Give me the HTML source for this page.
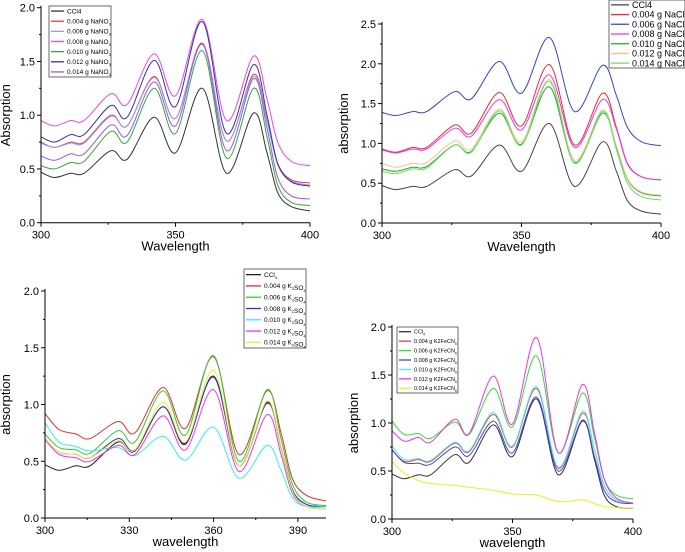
<!DOCTYPE html>
<html><head><meta charset="utf-8"><style>
html,body{margin:0;padding:0;background:#fff;}
svg{display:block;font-family:"Liberation Sans",sans-serif;}
</style></head><body>
<svg id="fig" width="685" height="552" viewBox="0 0 685 552" xmlns="http://www.w3.org/2000/svg"></svg>
<script>
const wavelengths=[300,305,311,316,326,332,342,350,360,369,379,384,388,393,400];

const nano3Labels=["CCl4","0.004 g NaNO3","0.006 g NaNO3","0.008 g NaNO3","0.010 g NaNO3","0.012 g NaNO3","0.014 g NaNO3"];
const nano3Ccl4=[0.47,0.42,0.46,0.46,0.67,0.59,0.98,0.65,1.25,0.46,1.02,0.65,0.28,0.15,0.11];
const nano3S004=[0.75,0.70,0.75,0.75,1.0,0.90,1.36,0.97,1.67,0.76,1.38,0.95,0.55,0.40,0.37];
const nano3S006=[0.74,0.70,0.74,0.74,0.99,0.90,1.35,0.97,1.66,0.76,1.36,0.94,0.54,0.39,0.35];
const nano3S008=[0.95,0.90,0.95,0.95,1.20,1.10,1.57,1.18,1.89,0.95,1.55,1.15,0.75,0.57,0.53];
const nano3S010=[0.53,0.50,0.56,0.57,0.85,0.75,1.25,0.83,1.60,0.60,1.25,0.80,0.35,0.19,0.16];
const nano3S012=[0.80,0.75,0.82,0.82,1.09,0.98,1.51,1.08,1.87,0.83,1.47,1.0,0.55,0.38,0.34];
const nano3S014=[0.62,0.58,0.64,0.64,0.91,0.81,1.31,0.90,1.66,0.67,1.34,0.88,0.42,0.25,0.22];

const naclLabels=["CCl4","0.004 g NaCl","0.006 g NaCl","0.008 g NaCl","0.010 g NaCl","0.012 g NaCl","0.014 g NaCl"];
const naclCcl4=[0.47,0.42,0.46,0.46,0.67,0.59,0.98,0.65,1.25,0.46,1.02,0.65,0.28,0.15,0.11];
const naclS004=[0.93,0.89,0.95,0.95,1.23,1.13,1.64,1.22,1.99,0.98,1.63,1.2,0.75,0.58,0.54];
const naclS006=[1.39,1.35,1.40,1.40,1.65,1.56,2.03,1.63,2.33,1.40,1.98,1.6,1.2,1.02,0.97];
const naclS008=[0.92,0.88,0.93,0.93,1.19,1.09,1.55,1.17,1.86,0.95,1.55,1.18,0.74,0.58,0.54];
const naclS010=[0.68,0.65,0.70,0.71,0.98,0.90,1.38,0.99,1.71,0.76,1.38,0.95,0.55,0.38,0.34];
const naclS012=[0.75,0.70,0.75,0.76,1.03,0.93,1.43,1.02,1.80,0.79,1.42,0.97,0.56,0.39,0.35];
const naclS014=[0.65,0.62,0.68,0.69,0.98,0.89,1.41,0.98,1.78,0.75,1.40,0.92,0.5,0.33,0.29];

const k2so4Labels=["CCl4","0.004 g K2SO4","0.006 g K2SO4","0.008 g K2SO4","0.010 g K2SO4","0.012 g K2SO4","0.014 g K2SO4"];
const k2so4Ccl4=[0.47,0.42,0.46,0.46,0.67,0.59,0.98,0.65,1.25,0.46,1.02,0.62,0.25,0.12,0.10];
const k2so4S004=[0.92,0.78,0.74,0.70,0.85,0.75,1.15,0.79,1.42,0.56,1.12,0.75,0.35,0.2,0.15];
const k2so4S006=[0.74,0.62,0.60,0.57,0.77,0.67,1.12,0.73,1.43,0.50,1.13,0.70,0.3,0.14,0.11];
const k2so4S008=[0.70,0.58,0.56,0.53,0.70,0.60,0.98,0.66,1.24,0.46,1.01,0.62,0.25,0.12,0.1];
const k2so4S010=[0.84,0.67,0.63,0.59,0.62,0.55,0.72,0.51,0.80,0.35,0.64,0.42,0.18,0.1,0.1];
const k2so4S012=[0.69,0.56,0.53,0.50,0.64,0.56,0.90,0.60,1.13,0.41,0.91,0.56,0.22,0.1,0.08];
const k2so4S014=[0.70,0.58,0.56,0.53,0.68,0.60,1.02,0.67,1.30,0.46,1.03,0.62,0.24,0.1,0.08];

const fecnLabels=["CCl4","0.004 g K2FeCN6","0.006 g K2FeCN6","0.008 g K2FeCN6","0.010 g K2FeCN6","0.012 g K2FeCN6","0.014 g K2FeCN6"];
const fecnCcl4=[0.47,0.42,0.46,0.46,0.67,0.59,0.98,0.65,1.25,0.46,1.02,0.62,0.25,0.13,0.11];
const fecnS004=[0.72,0.60,0.62,0.60,0.79,0.70,1.09,0.75,1.36,0.53,1.10,0.72,0.35,0.2,0.17];
const fecnS006=[1.02,0.88,0.89,0.84,1.01,0.88,1.36,0.96,1.70,0.69,1.31,0.85,0.42,0.25,0.21];
const fecnS008=[0.72,0.59,0.58,0.57,0.75,0.66,1.02,0.69,1.27,0.50,1.03,0.65,0.3,0.18,0.16];
const fecnS010=[0.76,0.62,0.63,0.61,0.80,0.71,1.11,0.76,1.38,0.54,1.12,0.72,0.35,0.2,0.17];
const fecnS012=[0.92,0.81,0.85,0.80,1.04,0.89,1.49,0.99,1.89,0.69,1.40,0.9,0.42,0.22,0.16];
const fecnS014=[0.60,0.48,0.40,0.37,0.35,0.33,0.30,0.26,0.25,0.18,0.20,0.16,0.13,0.12,0.11];

const NS="http://www.w3.org/2000/svg";
const svg=document.getElementById('fig');
function mk(tag,attrs,parent,text){const e=document.createElementNS(NS,tag);for(const k in attrs)e.setAttribute(k,attrs[k]);if(text!==undefined)e.textContent=text;parent.appendChild(e);return e;}

function labelText(parent,x,y,label,size,re){
  const t=mk('text',{x:x,y:y,'font-size':size,fill:'#000'},parent);
  if(!re){mk('tspan',{},t,label);return t;}
  let last=0,m;re.lastIndex=0;
  while((m=re.exec(label))){
    mk('tspan',{},t,label.slice(last,m.index)+m[1]);
    mk('tspan',{'font-size':size*0.6,dy:2},t,m[2]);
    mk('tspan',{dy:-2},t,'');
    last=m.index+m[0].length;
  }
  mk('tspan',{},t,label.slice(last));
  return t;
}

function panel(c){
  const g=mk('g',{},svg);
  
  
  const xs=v=>c.x0+(v-c.xmin)/(c.xmax-c.xmin)*(c.x1-c.x0);
  const ys=v=>c.y0-(v-c.ymin)/(c.ymax-c.ymin)*(c.y0-c.y1);
  c.series.forEach((s,i)=>{
    const pts=wavelengths.map((w,j)=>[xs(w),ys(s[j])]);
    let d='M'+pts[0][0].toFixed(1)+','+pts[0][1].toFixed(1);
    for(let j=0;j<pts.length-1;j++){
      const p0=pts[Math.max(j-1,0)],p1=pts[j],p2=pts[j+1],p3=pts[Math.min(j+2,pts.length-1)];
      const t=6;
      const c1=[p1[0]+(p2[0]-p0[0])/t,p1[1]+(p2[1]-p0[1])/t];
      const c2=[p2[0]-(p3[0]-p1[0])/t,p2[1]-(p3[1]-p1[1])/t];
      d+=' C'+c1.map(v=>v.toFixed(1))+' '+c2.map(v=>v.toFixed(1))+' '+p2.map(v=>v.toFixed(1));
    }
    const p=mk('path',{d:d,fill:'none',stroke:c.colors[i],'stroke-width':1},g);
    
    
  });
  const ax=mk('path',{d:`M${c.x0},${c.y1-2} L${c.x0},${c.y0} L${c.x1},${c.y0}`,fill:'none',stroke:'#000','stroke-width':1},g);
  
  
  c.yticks.forEach(v=>{
    const y=ys(v);
    mk('line',{x1:c.x0-4,x2:c.x0,y1:y,y2:y,stroke:'#000'},g);
    const t=mk('text',{x:c.x0-6,y:y+4,'font-size':11,'text-anchor':'end'},g,v.toFixed(1));
    
    
  });
  for(let k=0;k<c.yticks.length-1;k++){const y=ys((c.yticks[k]+c.yticks[k+1])/2);mk('line',{x1:c.x0-2,x2:c.x0,y1:y,y2:y,stroke:'#000'},g);}
  c.xticks.forEach(v=>{
    const x=xs(v);
    mk('line',{x1:x,x2:x,y1:c.y0,y2:c.y0+4,stroke:'#000'},g);
    const t=mk('text',{x:x,y:c.y0+16,'font-size':11,'text-anchor':'middle'},g,String(v));
    
    
  });
  c.xminor.forEach(v=>{const x=xs(v);mk('line',{x1:x,x2:x,y1:c.y0,y2:c.y0+2,stroke:'#000'},g);});
  const xt=mk('text',{x:(c.x0+c.x1)/2,y:c.y0+28,'font-size':13,'text-anchor':'middle'},g,c.xtitle);
  
  
  const yt=mk('text',{x:0,y:0,'font-size':13,'text-anchor':'middle',transform:`translate(${c.ytx},${(c.y0+c.y1)/2}) rotate(-90)`},g,c.ytitle);
  
  
  const L=c.legend;
  const lg=mk('g',{},g);
  
  
  mk('rect',{x:L.x,y:L.y,width:L.w,height:L.h,fill:'#fff',stroke:'#444','stroke-width':0.8},lg);
  const rh=L.h/7;
  c.labels.forEach((lab,i)=>{
    const yy=L.y+rh*(i+0.5);
    const e=mk('g',{},lg);
    
    
    mk('line',{x1:L.x+2,x2:L.x+L.sw,y1:yy,y2:yy,stroke:c.colors[i],'stroke-width':1.3},e);
    labelText(e,L.x+L.sw+3,yy+L.fs*0.35,lab,L.fs,c.subRe);
  });
}

const cNano=["#333333","#e04040","#9999ee","#ee44ee","#33aa33","#333399","#9955ee"];
panel({name:'panel-nano3',x0:41,x1:310,y0:222.7,y1:7.7,xmin:300,xmax:400,ymin:0,ymax:2,
  yticks:[0,0.5,1,1.5,2],xticks:[300,350,400],xminor:[325,375],xtitle:'Wavelength',ytitle:'Absorption',ytx:10,
  series:[nano3Ccl4,nano3S004,nano3S006,nano3S008,nano3S010,nano3S012,nano3S014],labels:nano3Labels,colors:cNano,
  subRe:/(NO)(\d)/g,
  legend:{x:49,y:6,w:62,h:71,sw:15,fs:6.5}});
const cNacl=["#444444","#e03030","#3344cc","#ee33ee","#22aa22","#e8c890","#66dd66"];
panel({name:'panel-nacl',x0:382,x1:661,y0:223,y1:24,xmin:300,xmax:400,ymin:0,ymax:2.5,
  yticks:[0,0.5,1,1.5,2,2.5],xticks:[300,350,400],xminor:[325,375],xtitle:'Wavelength',ytitle:'absorption',ytx:348,
  series:[naclCcl4,naclS004,naclS006,naclS008,naclS010,naclS012,naclS014],labels:naclLabels,colors:cNacl,
  subRe:null,
  legend:{x:609,y:0,w:76,h:68,sw:20,fs:9}});
const cK2so4=["#222222","#e03030","#33cc33","#3333cc","#33eeee","#ee33ee","#eeee33"];
panel({name:'panel-k2so4',x0:45,x1:326,y0:518,y1:291,xmin:300,xmax:400,ymin:0,ymax:2,
  yticks:[0,0.5,1,1.5,2],xticks:[300,330,360,390],xminor:[315,345,375],xtitle:'wavelength',ytitle:'absorption',ytx:10,
  series:[k2so4Ccl4,k2so4S004,k2so4S006,k2so4S008,k2so4S010,k2so4S012,k2so4S014],labels:k2so4Labels,colors:cK2so4,
  subRe:/(SO|CCl|K)(\d)/g,
  legend:{x:244,y:269,w:62,h:79,sw:17,fs:6.5}});
const cFecn=["#333333","#e04040","#33dd33","#4444dd","#44eeee","#ee33ee","#eeee22"];
panel({name:'panel-k2fecn6',x0:392,x1:633,y0:519,y1:327,xmin:300,xmax:400,ymin:0,ymax:2,
  yticks:[0,0.5,1,1.5,2],xticks:[300,350,400],xminor:[325,375],xtitle:'wavelength',ytitle:'absorption',ytx:358,
  series:[fecnCcl4,fecnS004,fecnS006,fecnS008,fecnS010,fecnS012,fecnS014],labels:fecnLabels,colors:cFecn,
  subRe:/(CCl|CN)(\d)/g,
  legend:{x:397,y:327,w:61,h:66,sw:14,fs:5.5}});
</script>
</body></html>
